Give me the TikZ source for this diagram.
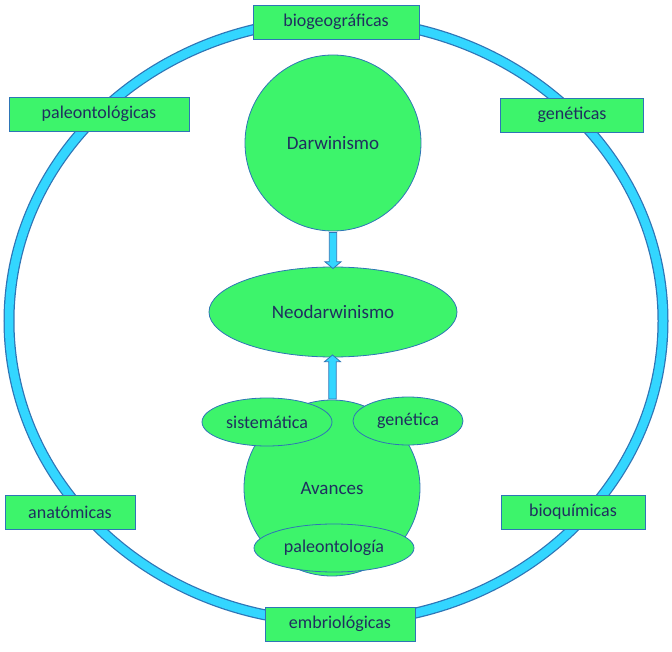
\documentclass[tikz,border=0pt]{standalone}
\usepackage{fontspec}
\setmainfont{Carlito}
\usetikzlibrary{shapes.geometric,shapes.arrows,calc}
\definecolor{grn}{HTML}{3DF46B}
\definecolor{bord}{HTML}{2E75B6}
\definecolor{lb}{HTML}{33D6FF}
\definecolor{txt}{HTML}{1F2F5F}
\tikzset{x=1pt,y=-1pt,
 lbl/.style={draw=bord,fill=grn,text=txt,font=\fontsize{18}{20}\selectfont,line width=0.8pt,minimum height=34pt,inner xsep=8pt},
 blob/.style={draw=bord,fill=grn,text=txt,font=\fontsize{19}{21}\selectfont,line width=0.8pt,inner sep=0pt},
 sarrow/.style={single arrow,draw=bord,fill=lb,line width=0.8pt,minimum width=16pt,single arrow head extend=4pt,single arrow tip angle=100,inner sep=3pt,minimum height=36pt}}
\begin{document}
\begin{tikzpicture}
\useasboundingbox (0,0) rectangle (672,652);
\draw[draw=bord,line width=11pt] (336,321) ellipse [x radius=327,y radius=301];
\draw[draw=lb,line width=8.5pt] (336,321) ellipse [x radius=327,y radius=301];
\node[lbl,minimum width=166pt] (bio) at (336,22) {biogeográficas};
\node[lbl,minimum width=180pt] (pal) at (99,114) {paleontológicas};
\node[lbl,minimum width=143pt] (gen) at (572,115) {genéticas};
\node[lbl,minimum width=130pt] (ana) at (70,512) {anatómicas};
\node[lbl,minimum width=144pt] (bq) at (573,512) {bioquímicas};
\node[lbl,minimum width=150pt] (emb) at (340,624) {embriológicas};
\node[blob,circle,minimum size=176pt] (dar) at (333,143) {Darwinismo};
\node[blob,ellipse,minimum width=248pt,minimum height=90pt] (neo) at (333,312) {Neodarwinismo};
\node[blob,circle,minimum size=176pt] (av) at (332,488) {Avances};
\node[blob,ellipse,minimum width=130pt,minimum height=48pt,font=\fontsize{18}{20}\selectfont] (sis) at (267,422) {sistemática};
\node[blob,ellipse,minimum width=110pt,minimum height=48pt,font=\fontsize{18}{20}\selectfont] (gn) at (408,421) {genética};
\node[blob,ellipse,minimum width=160pt,minimum height=48pt,font=\fontsize{18}{20}\selectfont] (pa) at (334,548) {paleontología};
\node[sarrow,rotate=-90] (a1) at ($(dar.south)!0.5!(neo.north)$) {};
\node[sarrow,rotate=90,minimum height=44pt] (a2) at ($(av.north)!0.5!(neo.south)$) {};
\end{tikzpicture}
\end{document}
